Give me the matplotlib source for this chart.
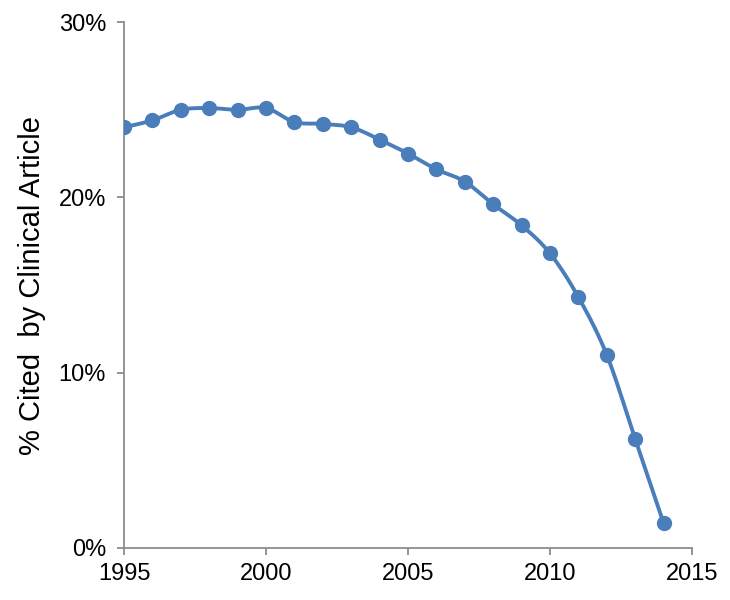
import numpy as np
import matplotlib
matplotlib.use('Agg')
import matplotlib.pyplot as plt
from matplotlib.ticker import FuncFormatter

plt.rcParams['font.family'] = ['Liberation Sans', 'DejaVu Sans']

# ── Data ─────────────────────────────────────────────────────────────────
years = [1995, 1996, 1997, 1998, 1999, 2000, 2001, 2002, 2003, 2004,
         2005, 2006, 2007, 2008, 2009, 2010, 2011, 2012, 2013, 2014]
pct_cited = [24.0, 24.4, 25.0, 25.1, 25.0, 25.1, 24.3, 24.2, 24.0, 23.3,
             22.5, 21.6, 20.9, 19.6, 18.4, 16.8, 14.3, 11.0, 6.2, 1.4]

x_ticks = [1995, 2000, 2005, 2010, 2015]
y_ticks = [0, 10, 20, 30]

BLUE = '#4a7ebb'
GREY = '#8c8c8c'


def smooth_curve(x, y, n=30):
    # Catmull-Rom style smoothing, like Excel's "smoothed line"
    x = np.asarray(x, float); y = np.asarray(y, float)
    px = np.concatenate([[x[0]], x, [x[-1]]])
    py = np.concatenate([[y[0]], y, [y[-1]]])
    xs, ys = [], []
    t = np.linspace(0, 1, n)
    for i in range(1, len(px) - 2):
        p0, p1, p2, p3 = [np.array([px[j], py[j]]) for j in (i - 1, i, i + 1, i + 2)]
        c1 = p1 + (p2 - p0) / 6
        c2 = p2 - (p3 - p1) / 6
        b = ((1 - t) ** 3)[:, None] * p1 + (3 * (1 - t) ** 2 * t)[:, None] * c1 \
            + (3 * (1 - t) * t ** 2)[:, None] * c2 + (t ** 3)[:, None] * p2
        xs.extend(b[:, 0]); ys.extend(b[:, 1])
    return np.array(xs), np.array(ys)


fig = plt.figure(figsize=(7.3, 6), dpi=100)
ax = fig.add_axes([0.170, 0.087, 0.778, 0.876])

sx, sy = smooth_curve(years, pct_cited)
ax.plot(sx, sy, color=BLUE, lw=2.8, solid_capstyle='round', zorder=3)
ax.plot(years, pct_cited, 'o', color=BLUE, markersize=10, zorder=4)

ax.set_xlim(1995, 2015)
ax.set_ylim(0, 30)
ax.set_xticks(x_ticks)
ax.set_yticks(y_ticks)
ax.yaxis.set_major_formatter(FuncFormatter(lambda v, p: f'{v:.0f}%'))

for s in ('top', 'right'):
    ax.spines[s].set_visible(False)
for s in ('left', 'bottom'):
    ax.spines[s].set_color(GREY)
    ax.spines[s].set_linewidth(1.3)
ax.tick_params(axis='both', colors=GREY, length=5, width=1.3,
               labelsize=17, labelcolor='black')
ax.tick_params(axis='x', pad=6)
ax.tick_params(axis='y', pad=8)

ax.set_ylabel('% Cited  by Clinical Article', fontsize=21, labelpad=9)
for lab in ax.get_xticklabels() + ax.get_yticklabels():
    lab.set_clip_on(False)

fig.savefig('out.png', dpi=100)
